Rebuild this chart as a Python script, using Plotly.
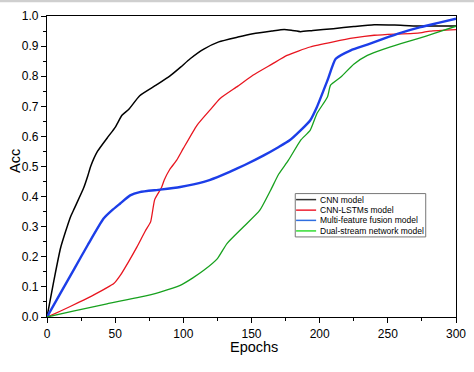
import plotly.graph_objects as go

# CNN model
cnn_x = [0, 5, 10, 17, 20, 27, 30, 32, 37, 45, 50, 55, 60, 68, 80, 90, 98, 105, 115, 126, 140, 151, 165, 174, 180, 186, 195, 210, 225, 240, 255, 272, 300]
cnn_y = [0, 0.12, 0.23, 0.33, 0.36, 0.43, 0.47, 0.50, 0.55, 0.60, 0.63, 0.67, 0.69, 0.735, 0.77, 0.80, 0.83, 0.858, 0.89, 0.914, 0.93, 0.941, 0.95, 0.955, 0.952, 0.948, 0.952, 0.958, 0.965, 0.971, 0.97, 0.967, 0.967]

# CNN-LSTMs model
lstm_x = [0, 10, 24, 35, 45, 49, 54, 60, 66, 72, 76, 79, 84, 86, 90, 95, 100, 110, 120, 127, 140, 151, 165, 176, 193, 210, 225, 240, 255, 269, 275, 281, 300]
lstm_y = [0, 0.02, 0.05, 0.075, 0.10, 0.111, 0.14, 0.185, 0.233, 0.285, 0.316, 0.39, 0.43, 0.455, 0.49, 0.52, 0.56, 0.637, 0.69, 0.726, 0.767, 0.803, 0.84, 0.869, 0.897, 0.914, 0.927, 0.936, 0.94, 0.942, 0.945, 0.95, 0.955]

# Multi-feature fusion model
mff_x = [0, 10, 20, 30, 41.5, 47.6, 53.7, 61, 68, 83, 97.7, 115, 125, 134, 145, 159, 170, 178, 186, 193, 198, 205.7, 211.8, 222.8, 235, 247, 260, 274, 287, 300]
mff_y = [0, 0.08, 0.16, 0.24, 0.327, 0.354, 0.377, 0.404, 0.415, 0.423, 0.432, 0.449, 0.465, 0.482, 0.505, 0.537, 0.565, 0.587, 0.62, 0.653, 0.698, 0.786, 0.858, 0.886, 0.905, 0.925, 0.945, 0.963, 0.977, 0.991]

# Dual-stream network model
ds_x = [0, 20, 44, 68, 83, 97.7, 107, 115, 125, 132, 144, 156, 164, 170, 177, 186, 193, 198, 205.7, 208, 215.5, 225, 235, 247, 259.5, 272, 284, 300]
ds_y = [0, 0.02, 0.044, 0.066, 0.083, 0.105, 0.13, 0.155, 0.194, 0.244, 0.299, 0.354, 0.421, 0.475, 0.52, 0.587, 0.62, 0.676, 0.731, 0.77, 0.797, 0.84, 0.869, 0.89, 0.908, 0.925, 0.942, 0.966]

names = ["CNN model", "CNN-LSTMs model", "Multi-feature fusion model", "Dual-stream network model"]
x_ticks = [0, 50, 100, 150, 200, 250, 300]
y_ticks = [0.0, 0.1, 0.2, 0.3, 0.4, 0.5, 0.6, 0.7, 0.8, 0.9, 1.0]

line_colors = ["#000000", "#e8151f", "#1c3ee8", "#17a11e"]
legend_colors = ["#333333", "#ee2233", "#2f6ee0", "#33dd33"]
line_widths = [1.5, 1.3, 2.4, 1.3]

FONT = "Liberation Sans, Arial"

fig = go.Figure()
for xs, ys, nm, col, w in zip([cnn_x, lstm_x, mff_x, ds_x], [cnn_y, lstm_y, mff_y, ds_y],
                              names, line_colors, line_widths):
    fig.add_trace(go.Scatter(x=xs, y=ys, mode="lines", name=nm, showlegend=False,
                             line=dict(color=col, width=w, shape="spline", smoothing=0.5)))

axis_common = dict(showline=True, linecolor="black", linewidth=1.3, mirror=True,
                   ticks="outside", ticklen=5, tickwidth=1.2, tickcolor="black",
                   showgrid=False, zeroline=False, automargin=False,
                   tickfont=dict(family=FONT, size=12, color="black"))

fig.update_xaxes(range=[0, 300], tickvals=x_ticks, ticktext=[str(v) for v in x_ticks],
                 minor=dict(ticks="outside", ticklen=3, dtick=25, tickcolor="black", tickwidth=1),
                 **axis_common)
fig.update_yaxes(range=[0, 1.0], tickvals=y_ticks, ticktext=[f"{v:.1f}" for v in y_ticks],
                 minor=dict(ticks="outside", ticklen=3, dtick=0.05, tickcolor="black", tickwidth=1),
                 **axis_common)

shapes = [dict(type="rect", xref="paper", yref="paper", x0=-0.2, x1=1.1,
               y0=1.046, y1=1.07, fillcolor="#cfcfcf", line=dict(width=0), layer="below")]
annotations = [
    dict(text="Epochs", xref="paper", yref="paper", x=0.507, y=-0.1, showarrow=False,
         xanchor="center", yanchor="middle", font=dict(family=FONT, size=14.5, color="black")),
    dict(text="Acc", xref="paper", yref="paper", x=-0.077, y=0.517, showarrow=False, textangle=-90,
         xanchor="center", yanchor="middle", font=dict(family=FONT, size=14.5, color="black")),
]

# manual legend (box, line samples, labels)
leg_x0, leg_x1, leg_top, leg_bot = 0.607, 0.926, 0.41, 0.266
row_y = [0.390, 0.355, 0.321, 0.286]
shapes.append(dict(type="rect", xref="paper", yref="paper", x0=leg_x0, x1=leg_x1,
                   y0=leg_bot, y1=leg_top, fillcolor="white", line=dict(color="#777777", width=1)))
for nm, col, ry in zip(names, legend_colors, row_y):
    shapes.append(dict(type="line", xref="paper", yref="paper", x0=0.609, x1=0.658, y0=ry, y1=ry,
                       line=dict(color=col, width=1.5)))
    annotations.append(dict(text=nm, xref="paper", yref="paper", x=0.663, y=ry, showarrow=False,
                            xanchor="left", yanchor="middle",
                            font=dict(family=FONT, size=8.5, color="black")))

fig.update_layout(
    width=474, height=372,
    margin=dict(l=47, r=18, t=16, b=55),
    paper_bgcolor="white", plot_bgcolor="white",
    showlegend=False,
    shapes=shapes, annotations=annotations,
)

fig.write_html("out.html", config={"displayModeBar": False},
               post_script="document.body.style.margin='0';document.body.style.overflow='hidden';")
